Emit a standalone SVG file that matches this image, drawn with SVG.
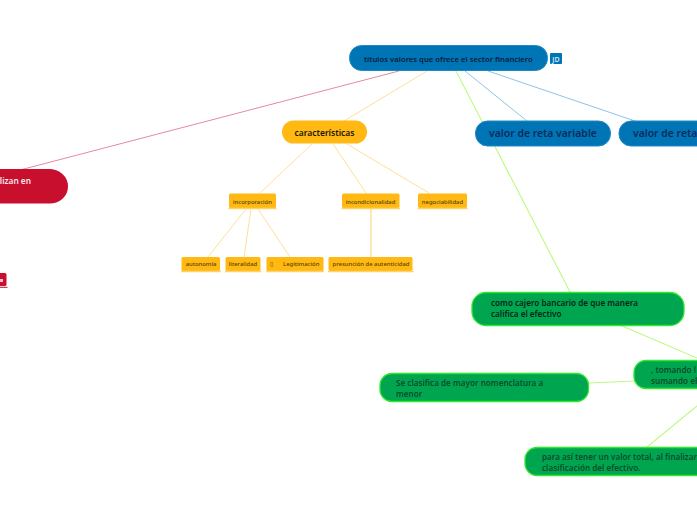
<svg xmlns="http://www.w3.org/2000/svg" width="697" height="520" viewBox="0 0 697 520">
<style>
text{font-family:"Noto Sans","Open Sans",sans-serif;font-weight:600}
.c{fill:none;stroke-linecap:round}
.p{stroke:#e58a9f;stroke-width:1}
.y{stroke:#ffdf99;stroke-width:1}
.b{stroke:#8fc4e3;stroke-width:1}
.g{stroke:#bdfb80;stroke-width:1.1}
.yb{fill:#ffb912}
.yu{stroke:#ffd36b;stroke-width:1.3}
.yt{font-size:5.900px;fill:#5a4306;font-weight:500}
.bn{fill:#0075b5;stroke:#1f8bc6;stroke-width:1}
.bt{font-size:10.400px;fill:#0b2b5e}
.gn{fill:#00a64f;stroke:#2ee82e;stroke-width:1.300}
.gt{font-size:8.150px;fill:#0b4d2c}
</style>
<g id="connectors">
<path class="c p" d="M399 71L20 170"/>
<path class="c y" d="M427 71L344 121"/>
<path class="c g" d="M456 71L570 292"/>
<path class="c b" d="M465 71L527 121"/>
<path class="c b" d="M488 71L635 121"/>
<path class="c y" d="M312 144L260 193"/>
<path class="c y" d="M333 144L366 193"/>
<path class="c y" d="M347 144L429 193"/>
<path class="c y" d="M246 209L208 257"/>
<path class="c y" d="M251 209L244 257"/>
<path class="c y" d="M258 209L290 257"/>
<path class="c y" d="M371 209L371 257" style="stroke-width:1.4"/>
<path class="c g" d="M620 325L697 358"/>
<path class="c g" d="M634 381L589 383"/>
<path class="c g" d="M697 406L647 447"/>
</g>
<g id="n-root">
<rect class="bn" x="349.500" y="45.500" width="198" height="25" rx="12"/>
<text x="364" y="62" style="font-size:7.700px;fill:#0b1c3a">títulos valores que ofrece el sector financiero</text>
</g>
<g id="n-jd">
<rect x="550" y="53" width="12" height="11" rx="1" fill="#0075b5"/>
<text x="556" y="61.500" text-anchor="middle" style="font-size:7px;fill:#cfe8f7">JD</text>
</g>
<g id="n-caracteristicas">
<rect class="yb" x="282" y="120.500" width="85" height="23" rx="11.500"/>
<text x="324.500" y="135.500" text-anchor="middle" style="font-size:8.500px;fill:#1d1606">características</text>
</g>
<g id="n-variable">
<rect class="bn" x="475.500" y="121" width="135" height="25" rx="12"/>
<text x="543" y="137" text-anchor="middle" class="bt">valor de reta variable</text>
</g>
<g id="n-fija">
<rect class="bn" x="619" y="121" width="100" height="25" rx="12"/>
<text x="633" y="137" class="bt">valor de reta</text>
</g>
<g id="n-red">
<path d="M-10 169H49A19 17 0 0 1 68 186V186A18 17 0 0 1 49 203.500H-10Z" fill="#c8102e"/>
<text x="31" y="184" text-anchor="end" style="font-size:8.300px;fill:#fbe6ea">lizan en</text>
</g>
<g id="n-red2">
<rect x="-6" y="273" width="12.500" height="13" rx="1.500" fill="#c8102e"/>
<path d="M-6 287.300H7.500" stroke="#c8102e" stroke-width="1"/>
<rect x="0" y="279" width="3" height="3" fill="#f5c0ca"/>
</g>
<g id="n-incorporacion">
<rect class="yb" x="229" y="193.500" width="47" height="14.500" rx="1.500"/>
<path class="yu" d="M228.500 208.500H276.500"/>
<text x="252.500" y="203.500" text-anchor="middle" class="yt">incorporación</text>
</g>
<g id="n-incondicionalidad">
<rect class="yb" x="342" y="193.500" width="57.500" height="14.500" rx="1.500"/>
<path class="yu" d="M341.500 208.500H400"/>
<text x="370.500" y="203.500" text-anchor="middle" class="yt">incondicionalidad</text>
</g>
<g id="n-negociabilidad">
<rect class="yb" x="418" y="193.500" width="49" height="14.500" rx="1.500"/>
<path class="yu" d="M417.500 208.500H467.500"/>
<text x="442.500" y="203.500" text-anchor="middle" class="yt">negociabilidad</text>
</g>
<g id="n-autonomia">
<rect class="yb" x="181.500" y="257" width="38.500" height="14" rx="1.500"/>
<path class="yu" d="M181 271.500H221"/>
<text x="201" y="266" text-anchor="middle" class="yt">autonomía</text>
</g>
<g id="n-literalidad">
<rect class="yb" x="225.500" y="257" width="35" height="14" rx="1.500"/>
<path class="yu" d="M225 271.500H261.500"/>
<text x="243" y="266" text-anchor="middle" class="yt">literalidad</text>
</g>
<g id="n-legitimacion">
<rect class="yb" x="266.500" y="257" width="57" height="14" rx="1.500"/>
<path class="yu" d="M266 271.500H324"/>
<text x="270" y="266" class="yt" style="font-family:'DejaVu Sans',sans-serif">▯</text>
<text x="283" y="266" class="yt">Legitimación</text>
</g>
<g id="n-presuncion">
<rect class="yb" x="328.500" y="257" width="84" height="14" rx="1.500"/>
<path class="yu" d="M328 271.500H413.500"/>
<text x="371" y="266" text-anchor="middle" class="yt">presunción de autenticidad</text>
</g>
<g id="n-cajero">
<rect class="gn" x="472" y="292.500" width="212" height="33" rx="14"/>
<text x="491" y="306" style="font-size:8.150px;fill:#08251a">como cajero bancario de que manera</text>
<text x="491" y="317" style="font-size:8.150px;fill:#08251a">califica el efectivo</text>
</g>
<g id="n-tomando">
<rect class="gn" x="634" y="360.500" width="90" height="28" rx="12"/>
<text x="651" y="372.500" class="gt">, tomando l</text>
<text x="651" y="383.500" class="gt">sumando el</text>
</g>
<g id="n-clasifica">
<rect class="gn" x="380" y="373.500" width="208.500" height="28" rx="12"/>
<text x="396" y="385.500" class="gt">Se clasifica de mayor nomenclatura a</text>
<text x="396" y="396.500" class="gt">menor</text>
</g>
<g id="n-para">
<rect class="gn" x="525" y="447.500" width="200" height="28" rx="12"/>
<text x="542" y="459.500" class="gt" textLength="155" lengthAdjust="spacingAndGlyphs">para así tener un valor total, al finalizar</text>
<text x="542" y="470.500" class="gt">clasificación del efectivo.</text>
</g>
</svg>
